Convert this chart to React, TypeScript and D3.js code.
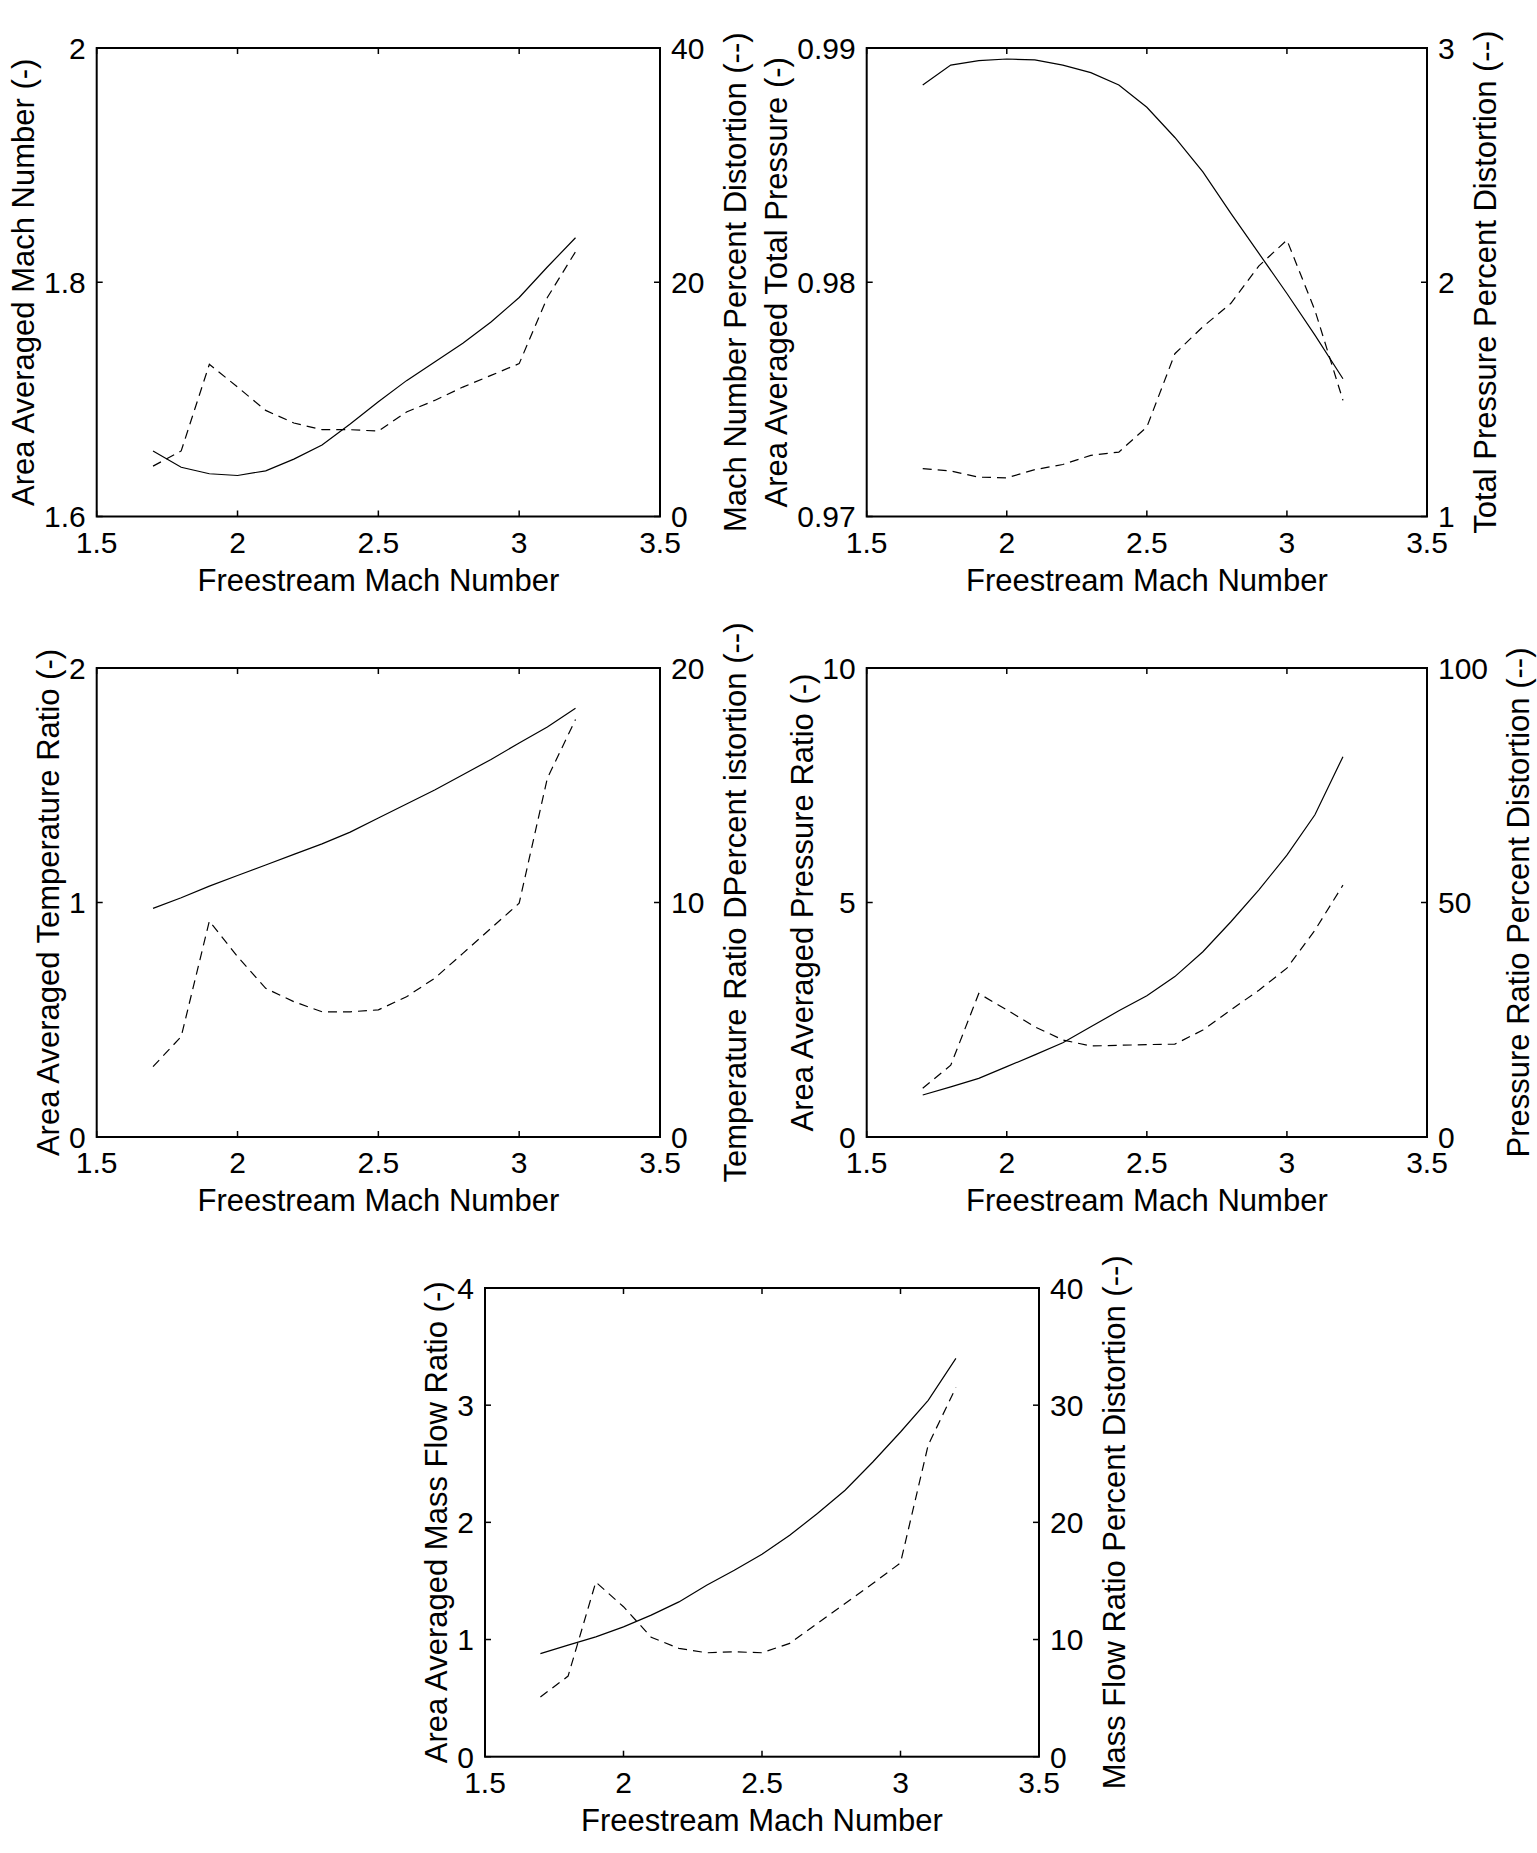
import * as d3 from "d3"

// freestream Mach numbers shared by every panel
const MACH = [1.7, 1.8, 1.9, 2.0, 2.1, 2.2, 2.3, 2.4, 2.5, 2.6, 2.7, 2.8, 2.9, 3.0, 3.1, 3.2]
const X_TICKS = [1.5, 2, 2.5, 3, 3.5]

// area averaged values (solid, left axis)
const MACH_AVG = [1.656, 1.642, 1.6365, 1.635, 1.639, 1.649, 1.661, 1.679, 1.698, 1.716, 1.732, 1.748, 1.766, 1.787, 1.813, 1.838]
const TP_AVG = [0.98842, 0.98927, 0.98946, 0.98953, 0.98949, 0.98927, 0.98895, 0.98842, 0.98747, 0.98618, 0.98471, 0.98294, 0.98123, 0.97952, 0.97774, 0.97588]
const TR_AVG = [0.975, 1.02, 1.07, 1.115, 1.16, 1.205, 1.25, 1.3, 1.36, 1.42, 1.48, 1.545, 1.61, 1.68, 1.748, 1.828]
const PR_AVG = [0.895, 1.07, 1.25, 1.5, 1.75, 2.01, 2.35, 2.69, 3.01, 3.42, 3.95, 4.59, 5.27, 6.01, 6.87, 8.11]
const MF_AVG = [0.88, 0.952, 1.023, 1.108, 1.208, 1.321, 1.464, 1.592, 1.728, 1.89, 2.075, 2.274, 2.515, 2.771, 3.041, 3.4]

// percent distortion (dashed, right axis)
const MACH_DIST = [4.3, 5.6, 13.0, 11.05, 9.06, 7.98, 7.41, 7.41, 7.29, 8.92, 9.91, 11.05, 12.05, 13.05, 18.7, 22.6]
const TP_DIST = [1.204, 1.194, 1.168, 1.165, 1.2, 1.222, 1.261, 1.275, 1.382, 1.695, 1.81, 1.91, 2.07, 2.18, 1.88, 1.496]
const TR_DIST = [3.0, 4.28, 9.21, 7.69, 6.34, 5.77, 5.34, 5.34, 5.42, 5.98, 6.77, 7.83, 8.9, 9.97, 15.3, 17.8]
const PR_DIST = [10.4, 15.3, 30.6, 27.1, 23.5, 20.7, 19.4, 19.55, 19.7, 19.8, 22.8, 27.1, 31.3, 36.0, 44.1, 53.7]
const MF_DIST = [5.1, 6.88, 14.9, 12.8, 10.2, 9.24, 8.87, 8.95, 8.87, 9.67, 11.37, 13.07, 14.78, 16.54, 26.6, 31.5]

// axis ticks
const MACH_TICKS = [1.6, 1.8, 2]
const MACH_DIST_TICKS = [0, 20, 40]
const TP_TICKS = [0.97, 0.98, 0.99]
const TP_DIST_TICKS = [1, 2, 3]
const TR_TICKS = [0, 1, 2]
const TR_DIST_TICKS = [0, 10, 20]
const PR_TICKS = [0, 5, 10]
const PR_DIST_TICKS = [0, 50, 100]
const MF_TICKS = [0, 1, 2, 3, 4]
const MF_DIST_TICKS = [0, 10, 20, 30, 40]

const X_LABEL = "Freestream Mach Number"

const W = 1537
const H = 1853
const FONT = "'Liberation Sans', Arial, Helvetica, sans-serif"
const TICK_FS = 30
const LABEL_FS = 31
const TICK_LEN = 6

interface PanelProps {
  box: { left: number; right: number; top: number; bottom: number }
  avg: number[]
  dist: number[]
  leftTicks: number[]
  rightTicks: number[]
  leftLabel: string
  rightLabel: string
}

// rough width of a numeric label in Arial metrics
const labelWidth = (s: string) =>
  s.split("").reduce((w, c) => w + (c === "." ? 0.278 : 0.556), 0) * TICK_FS

const Panel = ({ box, avg, dist, leftTicks, rightTicks, leftLabel, rightLabel }: PanelProps) => {
  const { left, right, top, bottom } = box
  const x = d3.scaleLinear().domain([X_TICKS[0], X_TICKS[X_TICKS.length - 1]]).range([left, right])
  const yL = d3.scaleLinear().domain([leftTicks[0], leftTicks[leftTicks.length - 1]]).range([bottom, top])
  const yR = d3.scaleLinear().domain([rightTicks[0], rightTicks[rightTicks.length - 1]]).range([bottom, top])

  const solid = d3.line<number>().x((_, i) => x(MACH[i])).y((d) => yL(d))(avg) || ""
  const dashed = d3.line<number>().x((_, i) => x(MACH[i])).y((d) => yR(d))(dist) || ""

  const leftW = d3.max(leftTicks, (t) => labelWidth(String(t))) || 0
  const rightW = d3.max(rightTicks, (t) => labelWidth(String(t))) || 0
  const leftLabelX = left - 11 - leftW - 21
  const rightLabelX = right + 11 + rightW + 30
  const midY = (top + bottom) / 2

  return (
    <g fontFamily={FONT} fill="#000">
      <path d={solid} fill="none" stroke="#000" strokeWidth={1.2} />
      <path d={dashed} fill="none" stroke="#000" strokeWidth={1.2} strokeDasharray="9 6" />

      {X_TICKS.map((t) => (
        <g key={"x" + t}>
          <line x1={x(t)} x2={x(t)} y1={bottom} y2={bottom - TICK_LEN} stroke="#000" strokeWidth={1.5} />
          <line x1={x(t)} x2={x(t)} y1={top} y2={top + TICK_LEN} stroke="#000" strokeWidth={1.5} />
          <text x={x(t)} y={bottom + 36} textAnchor="middle" fontSize={TICK_FS}>
            {String(t)}
          </text>
        </g>
      ))}

      {leftTicks.map((t) => (
        <g key={"l" + t}>
          <line x1={left} x2={left + TICK_LEN} y1={yL(t)} y2={yL(t)} stroke="#000" strokeWidth={1.5} />
          <text x={left - 11} y={yL(t)} dy="0.36em" textAnchor="end" fontSize={TICK_FS}>
            {String(t)}
          </text>
        </g>
      ))}

      {rightTicks.map((t) => (
        <g key={"r" + t}>
          <line x1={right} x2={right - TICK_LEN} y1={yR(t)} y2={yR(t)} stroke="#000" strokeWidth={1.5} />
          <text x={right + 11} y={yR(t)} dy="0.36em" textAnchor="start" fontSize={TICK_FS}>
            {String(t)}
          </text>
        </g>
      ))}

      <rect x={left} y={top} width={right - left} height={bottom - top} fill="none" stroke="#000" strokeWidth={2} />

      <text x={(left + right) / 2} y={bottom + 74} textAnchor="middle" fontSize={LABEL_FS}>
        {X_LABEL}
      </text>
      <text
        transform={`translate(${leftLabelX},${midY}) rotate(-90)`}
        textAnchor="middle"
        dy="0.36em"
        fontSize={LABEL_FS}
      >
        {leftLabel}
      </text>
      <text
        transform={`translate(${rightLabelX},${midY}) rotate(-90)`}
        textAnchor="middle"
        dy="0.36em"
        fontSize={LABEL_FS}
      >
        {rightLabel}
      </text>
    </g>
  )
}

export default function App() {
  const col1 = { left: 96.7, right: 660 }
  const col2 = { left: 866.7, right: 1427 }
  const row1 = { top: 48, bottom: 516.5 }
  const row2 = { top: 668, bottom: 1137 }

  return (
    <svg width={W} height={H} style={{ position: "absolute", left: 0, top: 0, background: "#fff" }}>
      <rect width={W} height={H} fill="#fff" />
      <Panel
        box={{ ...col1, ...row1 }}
        avg={MACH_AVG}
        dist={MACH_DIST}
        leftTicks={MACH_TICKS}
        rightTicks={MACH_DIST_TICKS}
        leftLabel="Area Averaged Mach Number (-)"
        rightLabel="Mach Number Percent Distortion (--)"
      />
      <Panel
        box={{ ...col2, ...row1 }}
        avg={TP_AVG}
        dist={TP_DIST}
        leftTicks={TP_TICKS}
        rightTicks={TP_DIST_TICKS}
        leftLabel="Area Averaged Total Pressure (-)"
        rightLabel="Total Pressure Percent Distortion (--)"
      />
      <Panel
        box={{ ...col1, ...row2 }}
        avg={TR_AVG}
        dist={TR_DIST}
        leftTicks={TR_TICKS}
        rightTicks={TR_DIST_TICKS}
        leftLabel="Area Averaged Temperature Ratio (-)"
        rightLabel="Temperature Ratio DPercent istortion (--)"
      />
      <Panel
        box={{ ...col2, ...row2 }}
        avg={PR_AVG}
        dist={PR_DIST}
        leftTicks={PR_TICKS}
        rightTicks={PR_DIST_TICKS}
        leftLabel="Area Averaged Pressure Ratio (-)"
        rightLabel="Pressure Ratio Percent Distortion (--)"
      />
      <Panel
        box={{ left: 485, right: 1039, top: 1288, bottom: 1756.7 }}
        avg={MF_AVG}
        dist={MF_DIST}
        leftTicks={MF_TICKS}
        rightTicks={MF_DIST_TICKS}
        leftLabel="Area Averaged Mass Flow Ratio (-)"
        rightLabel="Mass Flow Ratio Percent Distortion (--)"
      />
    </svg>
  )
}
